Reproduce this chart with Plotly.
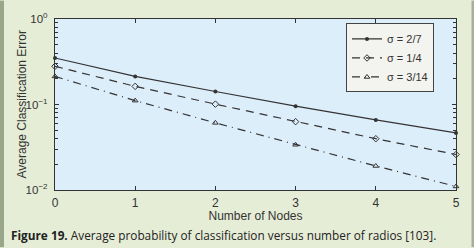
import plotly.graph_objects as go

nodes = [0, 1, 2, 3, 4, 5]
err_2_7 = [0.35, 0.213, 0.142, 0.0955, 0.066, 0.0465]
err_1_4 = [0.28, 0.163, 0.101, 0.063, 0.0398, 0.026]
err_3_14 = [0.213, 0.111, 0.061, 0.0338, 0.0191, 0.011]
series_names = ["σ = 2/7", "σ = 1/4", "σ = 3/14"]
ytick_vals = [1, 0.1, 0.01]
ytick_text = ["10<sup>0</sup>", "10<sup>−1</sup>", "10<sup>−2</sup>"]

W, H = 474, 248
L, R, T, B = 55, 18, 18.5, 57.5
pw = W - L - R
ph = H - T - B

lc = "#333333"
fig = go.Figure()
fig.add_trace(go.Scatter(x=nodes, y=err_2_7, name=series_names[0], mode="lines+markers",
                         cliponaxis=False,
                         line=dict(color=lc, width=1.2, dash="solid"),
                         marker=dict(symbol="circle", size=4, color=lc)))
fig.add_trace(go.Scatter(x=nodes, y=err_1_4, name=series_names[1], mode="lines+markers",
                         cliponaxis=False,
                         line=dict(color=lc, width=1.2, dash="8px,6px"),
                         marker=dict(symbol="diamond-open", size=5, color=lc, line=dict(width=1))))
fig.add_trace(go.Scatter(x=nodes, y=err_3_14, name=series_names[2], mode="lines+markers",
                         cliponaxis=False,
                         line=dict(color=lc, width=1.2, dash="8px,5px,1px,5px"),
                         marker=dict(symbol="triangle-up-open", size=5, color=lc, line=dict(width=1))))

font_ax = dict(family="Liberation Sans, Arial, sans-serif", size=12, color="#333")
fig.update_layout(
    width=W, height=H,
    margin=dict(l=L, r=R, t=T, b=B, pad=0, autoexpand=False),
    paper_bgcolor="#e6edd6",
    plot_bgcolor="#ddeefb",
    font=font_ax,
    showlegend=True,
    legend=dict(x=(434 - L) / pw, y=(H - B - 23) / ph, xanchor="right", yanchor="top",
                bgcolor="#f3f3ef", bordercolor="#444", borderwidth=1,
                font=dict(family="Liberation Sans, Arial, sans-serif", size=11, color="#333"),
                tracegroupgap=0, itemwidth=30),
    xaxis=dict(range=[0, 5], dtick=1, tick0=0, showgrid=False, zeroline=False,
               showline=True, linecolor="#333", linewidth=1.2, mirror="ticks",
               ticks="inside", ticklen=4, tickcolor="#333", automargin=False,
               ticklabelstandoff=1,
               title=dict(text="Number of Nodes", standoff=2, font=dict(size=12)),
               tickfont=dict(size=12)),
    yaxis=dict(type="log", range=[-2, 0], tickvals=ytick_vals, ticktext=ytick_text,
               showgrid=False, zeroline=False, automargin=False,
               showline=True, linecolor="#333", linewidth=1.2, mirror="ticks",
               ticks="inside", ticklen=4, tickcolor="#333", ticklabelstandoff=4,
               minor=dict(ticks="inside", ticklen=2.5, tickcolor="#333", dtick="D1", showgrid=False),
               tickfont=dict(size=11.5)),
)

# y-axis title
fig.add_annotation(xref="paper", yref="paper", x=(21 - L) / pw, y=0.5,
                   xanchor="center", yanchor="middle", showarrow=False, textangle=-90,
                   text="Average Classification Error",
                   font=dict(family="Liberation Sans, Arial, sans-serif", size=12, color="#333"))

# side strips
fig.add_shape(type="rect", xref="paper", yref="paper",
              x0=-L / pw, x1=(-L + 4) / pw, y0=-B / ph, y1=(H - B) / ph,
              fillcolor="#9aa688", line=dict(width=0), layer="below")
fig.add_shape(type="rect", xref="paper", yref="paper",
              x0=(W - L - 2.5) / pw, x1=(W - L) / pw, y0=-B / ph, y1=(H - B) / ph,
              fillcolor="#a8ad9c", line=dict(width=0), layer="below")

fig.add_annotation(xref="paper", yref="paper", x=(9 - L) / pw, y=-(236 - (H - B)) / ph,
                   xanchor="left", yanchor="middle", showarrow=False,
                   text="<b>Figure 19.</b> Average probability of classification versus number of radios [103].",
                   font=dict(family="Open Sans, sans-serif", size=11.8, color="#222"))

fig.write_html("out.html")
